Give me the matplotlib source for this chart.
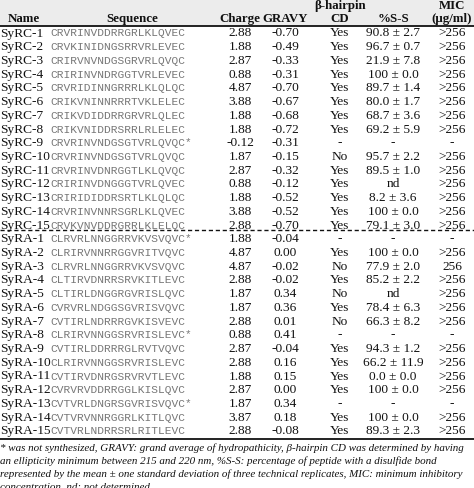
import matplotlib
matplotlib.use("Agg")
import matplotlib.pyplot as plt
from matplotlib.patches import Rectangle

names = [f"SyRC-{i}" for i in range(1, 16)] + [f"SyRA-{i}" for i in range(1, 16)]
sequences = ["CRVRINVDDRRGRLKLQVEC", "CRVKINIDNGSRRVRLEVEC", "CRIRVNVNDGSGRVRLQVQC",
    "CRIRINVNDRGGTVRLEVEC", "CRVRIDINNGRRRLKLQLQC", "CRIKVNINNRRRTVKLELEC",
    "CRIKVDIDDRRGRVRLQLEC", "CRIKVNIDDRSRRLRLELEC", "CRVRINVNDGSGTVRLQVQC*",
    "CRVRINVNDGSGTVRLQVQC", "CRVRINVDNRGGTLKLQVQC", "CRIRINVDNGGGTVRLQVEC",
    "CRIRIDIDDRSRTLKLQLQC", "CRVRINVNNRSGRLKLQVEC", "CRVKVNVDDRGRRLKLELQC",
    "CLRVRLNNGGRRVKVSVQVC*", "CLRIRVNNRRGGVRITVQVC", "CLRVRLNNGGRRVKVSVQVC",
    "CLTIRVDNRRSRVKITLEVC", "CLTIRLDNGGRGVRISLQVC", "CVRVRLNDGGSGVRISVQVC",
    "CVTIRLNDRRRGVKISVEVC", "CLRIRVNNGGSRVRISLEVC*", "CVTIRLDDRRRGLRVTVQVC",
    "CLRIRVNNGGSRVRISLEVC", "CVTIRVDNRGSRVRVTLEVC", "CVRVRVDDRRGGLKISLQVC",
    "CVTVRLDNGRSGVRISVQVC*", "CVTVRVNNRGGRLKITLQVC", "CVTVRLNDRRSRLRITLEVC"]
charge = ["2.88", "1.88", "2.87", "0.88", "4.87", "3.88", "1.88", "1.88", "-0.12", "1.87",
          "2.87", "0.88", "1.88", "3.88", "2.88",
          "1.88", "4.87", "4.87", "2.88", "1.87", "1.87", "2.88", "0.88", "2.87", "2.88",
          "1.88", "2.87", "1.87", "3.87", "2.88"]
gravy = ["-0.70", "-0.49", "-0.33", "-0.31", "-0.70", "-0.67", "-0.68", "-0.72", "-0.31", "-0.15",
         "-0.32", "-0.12", "-0.52", "-0.52", "-0.70",
         "-0.04", "0.00", "-0.02", "-0.02", "0.34", "0.36", "0.01", "0.41", "-0.04", "0.16",
         "0.15", "0.00", "0.34", "0.18", "-0.08"]
hairpin = ["Yes"] * 8 + ["-", "No", "Yes", "Yes", "Yes", "Yes", "Yes",
           "-", "Yes", "No", "Yes", "No", "Yes", "No", "-", "Yes", "Yes", "Yes", "Yes", "-", "Yes", "Yes"]
ss = ["90.8 ± 2.7", "96.7 ± 0.7", "21.9 ± 7.8", "100 ± 0.0", "89.7 ± 1.4", "80.0 ± 1.7",
      "68.7 ± 3.6", "69.2 ± 5.9", "-", "95.7 ± 2.2", "89.5 ± 1.0", "nd", "8.2 ± 3.6",
      "100 ± 0.0", "79.1 ± 3.0",
      "-", "100 ± 0.0", "77.9 ± 2.0", "85.2 ± 2.2", "nd", "78.4 ± 6.3", "66.3 ± 8.2", "-",
      "94.3 ± 1.2", "66.2 ± 11.9", "0.0 ± 0.0", "100 ± 0.0", "-", "100 ± 0.0", "89.3 ± 2.3"]
mic = [">256"] * 8 + ["-"] + [">256"] * 6 + ["-", ">256", "256", ">256", ">256", ">256", ">256", "-",
       ">256", ">256", ">256", ">256", "-", ">256", ">256"]
footnote = ["* was not synthesized, GRAVY: grand average of hydropathicity, β-hairpin CD was determined by having",
            "an ellipticity minimum between 215 and 220 nm, %S-S: percentage of peptide with a disulfide bond",
            "represented by the mean ± one standard deviation of three technical replicates, MIC: minimum inhibitory",
            "concentration, nd: not determined"]

W, H = 474, 488
fig = plt.figure(figsize=(W / 100, H / 100), dpi=100)
ax = fig.add_axes([0, 0, 1, 1])
ax.set_xlim(0, W)
ax.set_ylim(H, 0)
ax.axis("off")

serif = "Liberation Serif"
mono = "Liberation Mono"
fs = 9.6
ax.add_patch(Rectangle((0, 0), W, 25, color="#ececec", zorder=0))

hb = dict(family=serif, fontsize=9.3, fontweight="bold", va="center", color="#111")
ax.text(24, 19, "Name", ha="center", **hb)
ax.text(132, 19, "Sequence", ha="center", **hb)
ax.text(240, 19, "Charge", ha="center", **hb)
ax.text(285, 19, "GRAVY", ha="center", **hb)
ax.text(340, 6, "β-hairpin", ha="center", **hb)
ax.text(340, 19, "CD", ha="center", **hb)
ax.text(393, 19, "%S-S", ha="center", **hb)
ax.text(452, 6, "MIC", ha="center", **hb)
ax.text(452, 19, "(μg/ml)", ha="center", **hb)

ax.plot([0, W], [26, 26], color="#111", lw=1.3)

y0, dy = 33.5, 13.72
for i in range(len(names)):
    y = y0 + i * dy
    t = dict(family=serif, fontsize=fs, va="center", color="#111")
    ax.text(0, y, names[i], ha="left", **t)
    ax.text(50, y, sequences[i], ha="left", va="center", family=mono, fontsize=8.1, color="#777")
    ax.text(240, y, charge[i], ha="center", **t)
    ax.text(285, y, gravy[i], ha="center", **t)
    ax.text(340, y, hairpin[i], ha="center", **t)
    ax.text(393, y, ss[i], ha="center", **t)
    ax.text(452, y, mic[i], ha="center", **t)

ax.plot([0, W], [229.5, 229.5], color="#111", lw=1.0, ls=(0, (3, 2)))
ax.plot([0, W], [438.5, 438.5], color="#111", lw=1.3)

for j, line in enumerate(footnote):
    ax.text(0, 448 + j * 13, line, ha="left", va="center", family=serif,
            fontsize=7.9, style="italic", color="#111")

fig.savefig("out.png", dpi=100)
